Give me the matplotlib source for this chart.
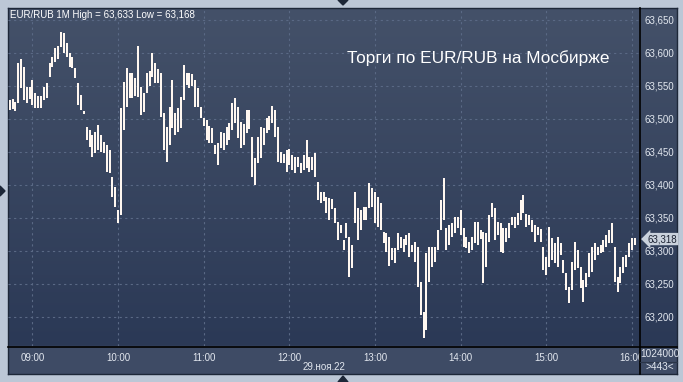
import matplotlib
matplotlib.use("Agg")
from matplotlib import pyplot as plt
from matplotlib.lines import Line2D
from matplotlib.patches import Polygon, Rectangle
import matplotlib.transforms as mtransforms
import numpy as np
import pandas as pd

plt.rcParams['font.family'] = ['Liberation Sans', 'DejaVu Sans']

# 2-minute high/low bars, EUR/RUB on 29.11.22
highs = [
    63.529, 63.530, 63.525, 63.585, 63.590, 63.579, 63.548, 63.548, 63.559, 63.539,
    63.535, 63.535, 63.548, 63.555, 63.585, 63.594, 63.608, 63.611, 63.632, 63.630,
    63.615, 63.600, 63.594, 63.577, 63.555, 63.536, 63.512, 63.488, 63.483, 63.476,
    63.480, 63.491, 63.476, 63.465, 63.461, 63.453, 63.412, 63.397, 63.362, 63.517,
    63.556, 63.577, 63.570, 63.570, 63.562, 63.611, 63.548, 63.540, 63.570, 63.572,
    63.600, 63.585, 63.575, 63.570, 63.509, 63.488, 63.518, 63.559, 63.509, 63.517,
    63.533, 63.582, 63.570, 63.570, 63.568, 63.559, 63.547, 63.518, 63.502, 63.499,
    63.490, 63.486, 63.460, 63.463, 63.480, 63.478, 63.488, 63.494, 63.524, 63.532,
    63.518, 63.495, 63.493, 63.514, 63.514, 63.473, 63.441, 63.473, 63.488, 63.486,
    63.501, 63.504, 63.520, 63.514, 63.488, 63.450, 63.447, 63.453, 63.455, 63.445,
    63.442, 63.442, 63.433, 63.445, 63.468, 63.442, 63.442, 63.448, 63.405, 63.389,
    63.389, 63.382, 63.380, 63.379, 63.365, 63.344, 63.339, 63.317, 63.342, 63.321,
    63.309, 63.389, 63.365, 63.362, 63.367, 63.367, 63.403, 63.395, 63.389, 63.382,
    63.373, 63.329, 63.327, 63.321, 63.305, 63.305, 63.327, 63.321, 63.318, 63.324,
    63.327, 63.309, 63.314, 63.306, 63.253, 63.208, 63.297, 63.306, 63.306, 63.306,
    63.332, 63.377, 63.411, 63.335, 63.339, 63.342, 63.352, 63.352, 63.362, 63.335,
    63.321, 63.314, 63.321, 63.344, 63.344, 63.332, 63.329, 63.327, 63.355, 63.373,
    63.365, 63.344, 63.342, 63.335, 63.335, 63.342, 63.352, 63.352, 63.358, 63.377,
    63.385, 63.356, 63.355, 63.347, 63.339, 63.336, 63.333, 63.306, 63.291, 63.336,
    63.320, 63.312, 63.321, 63.312, 63.286, 63.267, 63.245, 63.283, 63.314, 63.302,
    63.276, 63.256, 63.267, 63.297, 63.306, 63.312, 63.306, 63.309, 63.317, 63.324,
    63.332, 63.342, 63.306, 63.261, 63.276, 63.291, 63.294, 63.312, 63.320, 63.320,
]
lows = [
    63.514, 63.515, 63.512, 63.524, 63.547, 63.529, 63.524, 63.530, 63.521, 63.517,
    63.517, 63.517, 63.529, 63.532, 63.564, 63.579, 63.586, 63.591, 63.609, 63.600,
    63.594, 63.579, 63.577, 63.562, 63.521, 63.514, 63.507, 63.468, 63.458, 63.442,
    63.448, 63.453, 63.450, 63.448, 63.420, 63.418, 63.382, 63.367, 63.342, 63.355,
    63.483, 63.518, 63.532, 63.532, 63.535, 63.533, 63.506, 63.510, 63.539, 63.550,
    63.564, 63.555, 63.555, 63.503, 63.453, 63.435, 63.461, 63.486, 63.476, 63.480,
    63.486, 63.529, 63.552, 63.547, 63.550, 63.518, 63.518, 63.502, 63.490, 63.468,
    63.463, 63.463, 63.447, 63.430, 63.456, 63.453, 63.461, 63.468, 63.483, 63.494,
    63.471, 63.456, 63.460, 63.479, 63.485, 63.412, 63.400, 63.433, 63.441, 63.461,
    63.479, 63.483, 63.494, 63.473, 63.435, 63.433, 63.433, 63.420, 63.430, 63.423,
    63.418, 63.427, 63.418, 63.423, 63.426, 63.420, 63.423, 63.412, 63.377, 63.373,
    63.375, 63.358, 63.347, 63.364, 63.342, 63.317, 63.327, 63.302, 63.320, 63.261,
    63.274, 63.342, 63.317, 63.332, 63.347, 63.347, 63.365, 63.367, 63.342, 63.336,
    63.332, 63.312, 63.298, 63.277, 63.286, 63.282, 63.302, 63.305, 63.298, 63.309,
    63.291, 63.298, 63.283, 63.245, 63.203, 63.168, 63.180, 63.253, 63.276, 63.283,
    63.302, 63.332, 63.347, 63.302, 63.309, 63.321, 63.327, 63.335, 63.324, 63.306,
    63.305, 63.297, 63.302, 63.312, 63.309, 63.318, 63.252, 63.276, 63.314, 63.352,
    63.317, 63.324, 63.298, 63.297, 63.314, 63.320, 63.339, 63.335, 63.339, 63.347,
    63.358, 63.336, 63.339, 63.329, 63.314, 63.324, 63.314, 63.271, 63.264, 63.276,
    63.286, 63.282, 63.276, 63.294, 63.267, 63.241, 63.221, 63.241, 63.271, 63.274,
    63.244, 63.223, 63.245, 63.261, 63.268, 63.286, 63.294, 63.297, 63.299, 63.306,
    63.312, 63.312, 63.253, 63.238, 63.252, 63.267, 63.276, 63.291, 63.302, 63.309,
]
last_price = 63.318
times = pd.date_range("2022-11-29 08:44", periods=len(highs), freq="2min")

price_levels = [63.20, 63.25, 63.30, 63.35, 63.40, 63.45, 63.50, 63.55, 63.60, 63.65]
hour_ticks = pd.date_range("2022-11-29 09:00", "2022-11-29 16:00", freq="1h")

W, H = 683, 382


def box(l, t, r, b):
    return [l / W, 1 - b / H, (r - l) / W, (b - t) / H]


fig = plt.figure(figsize=(W / 100, H / 100), dpi=100)
fig.patch.set_facecolor('#bcc7d6')

# dark panel with gradient + bottom time band
bg = fig.add_axes(box(8, 8, 677, 374))
bg.set_xlim(0, 1)
bg.set_ylim(0, 1)
split = (374 - 346) / (374 - 8)
grad = np.linspace(0, 1, 256).reshape(-1, 1)
cmap = matplotlib.colors.LinearSegmentedColormap.from_list('bg', ['#2b3956', '#445169'])
bg.imshow(grad, extent=[0, 1, split, 1], origin='lower', aspect='auto', cmap=cmap)
bg.axhspan(0, split, color='#3e4b65')
bg.set_xticks([])
bg.set_yticks([])
for s in bg.spines.values():
    s.set_color('#1d2738')
    s.set_linewidth(1)

ax = fig.add_axes(box(8, 8, 640, 346))
ax.patch.set_alpha(0)
ax.vlines(times, lows, highs, color='#fff7f0', linewidth=1.1, antialiased=False)

ax.set_xlim(pd.Timestamp("2022-11-29 08:42:50"), pd.Timestamp("2022-11-29 16:05:40"))
ax.set_ylim(63.156, 63.668)

ax.yaxis.tick_right()
ax.set_yticks(price_levels)
ax.set_yticklabels([f"{v:.3f}".replace('.', ',') for v in price_levels])
ax.set_xticks(hour_ticks)
ax.set_xticklabels([t.strftime('%H:%M') for t in hour_ticks])
ax.tick_params(axis='y', length=0, pad=3, labelsize=7, labelcolor='#e2e7ef')
ax.tick_params(axis='x', length=0, pad=5, labelsize=7, labelcolor='#e2e7ef')
ax.grid(True, color='#5a6985', linestyle=(0, (2, 3)), linewidth=0.8)
for name in ['left', 'top', 'bottom', 'right']:
    ax.spines[name].set_visible(False)

# time labels are cut at the price column
band = Rectangle((8 / W, 1 - 374 / H), 632 / W, 28 / H, transform=fig.transFigure)
for lab in ax.get_xticklabels():
    lab.set_clip_path(band)

# separators
fig.add_artist(Line2D([8 / W, 677 / W], [1 - 346.5 / H] * 2, color='black', linewidth=1.2,
                      transform=fig.transFigure))
fig.add_artist(Line2D([640 / W] * 2, [1 - 8 / H, 1 - 374 / H], color='black', linewidth=1.2,
                      transform=fig.transFigure))
fig.add_artist(Line2D([640 / W, 677 / W], [1 - 361.5 / H] * 2, color='#2a3548', linewidth=0.8,
                      transform=fig.transFigure))

# texts
fig.text(10 / W, 1 - 15 / H, "EUR/RUB 1M High = 63,633 Low = 63,168", color='white',
         fontsize=7, va='center', ha='left')
fig.text(347 / W, 1 - 58 / H, "Торги по EUR/RUB на Мосбирже", color='white',
         fontsize=12.4, va='center', ha='left')
fig.text(324 / W, 1 - 367 / H, "29.ноя.22", color='#e2e7ef', fontsize=7, va='center', ha='center')
fig.text(660 / W, 1 - 354 / H, "1024000", color='#e2e7ef', fontsize=7.2, va='center', ha='center')
fig.text(660 / W, 1 - 367 / H, ">443<", color='#e2e7ef', fontsize=7.2, va='center', ha='center')

# last price tag
trans = mtransforms.blended_transform_factory(ax.transAxes, ax.transData)
ax.text(1.012, last_price, f"{last_price:.3f}".replace('.', ','), transform=trans,
        fontsize=7, color='#1b2232', va='center', ha='left', clip_on=False,
        bbox=dict(boxstyle='larrow,pad=0.12', fc='#c9d1dc', ec='none'))

# small frame markers
for pts in ([(338, 0), (348, 0), (343, 5)], [(338, 382), (348, 382), (343, 376)],
            [(0, 186), (0, 196), (5, 191)]):
    fig.patches.append(Polygon([(x / W, 1 - y / H) for x, y in pts], closed=True,
                               color='#1d2738', transform=fig.transFigure))

fig.savefig("out.png", dpi=100, facecolor=fig.get_facecolor())
